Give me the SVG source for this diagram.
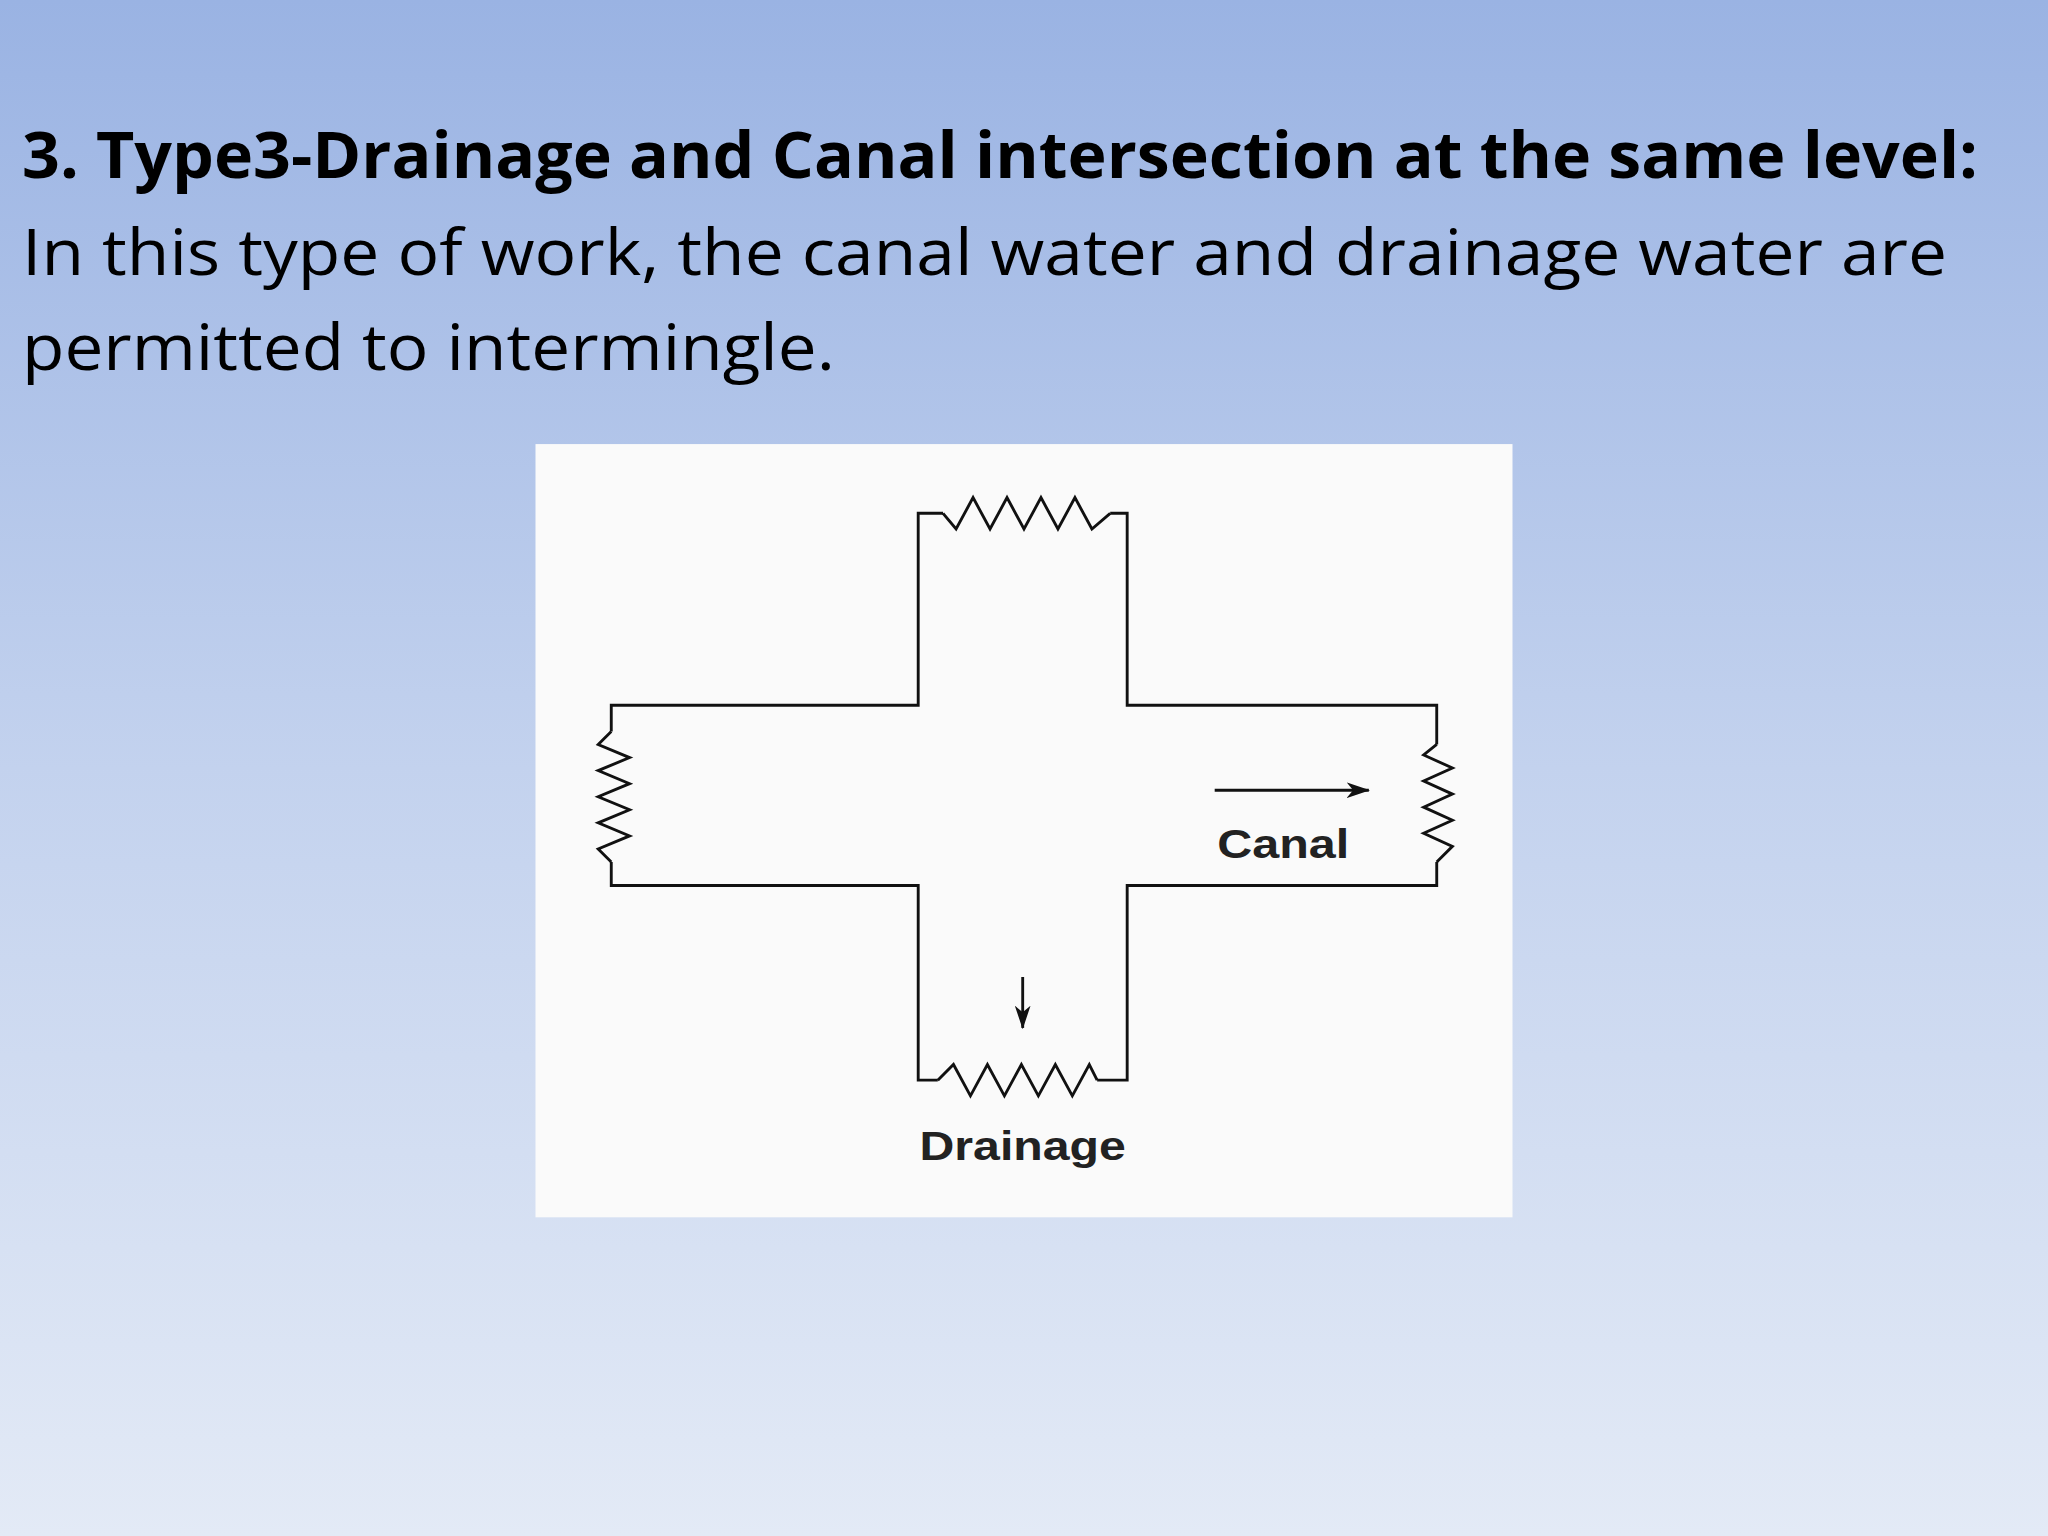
<svg xmlns="http://www.w3.org/2000/svg" width="2048" height="1536" viewBox="0 0 2048 1536">
<defs>
<linearGradient id="bg" x1="0" y1="0" x2="0" y2="1">
<stop offset="0" stop-color="#9AB3E3"/><stop offset="0.5" stop-color="#C3D2EE"/><stop offset="1" stop-color="#E3EAF6"/>
</linearGradient>
<marker id="ah" markerWidth="18" markerHeight="12" refX="17" refY="6" orient="auto" markerUnits="userSpaceOnUse"><path d="M0,0 L18,6 L0,12 L5,6 Z" fill="#111"/></marker>
<style>
.t{font-family:"Open Sans","Liberation Sans",sans-serif;fill:#000;font-size:64px}
.l{fill:none;stroke:#111;stroke-width:2.2}
.lb{font-family:"Liberation Sans",Arial,sans-serif;font-size:31px;font-weight:bold;fill:#222}
</style>
</defs>
<rect width="2048" height="1536" fill="url(#bg)"/>
<text class="t" x="22" y="178" font-weight="bold" textLength="1956" lengthAdjust="spacingAndGlyphs">3. Type3-Drainage and Canal intersection at the same level:</text>
<text class="t" x="22" y="275" textLength="1925" lengthAdjust="spacingAndGlyphs">In this type of work, the canal water and drainage water are</text>
<text class="t" x="22" y="370" textLength="813" lengthAdjust="spacingAndGlyphs">permitted to intermingle.</text>
<g transform="scale(1.30612)">
<rect x="410" y="340" width="748" height="592" fill="#FAFAFA"/>
<g id="cross">
<path class="l" d="M722,393 H703 V540 H468 V560 M468,660 V678 H703 V827 H718 M840,827 H863 V678 H1100 V660 M1100,570 V540 H863 V393 H850"/>
</g>
<g id="zigzags">
<polyline class="l" points="722,393 732,405 745,381 758,405 771,381 784,405 797,381 810,405 823,381 836,405 850,393"/>
<polyline class="l" points="718,827 730,815 743,839 756,815 769,839 782,815 795,839 808,815 821,839 834,815 840,827"/>
<polyline class="l" points="468,560 458,570 482,580 458,590 482,600 458,610 482,620 458,630 482,640 458,650 468,660"/>
<polyline class="l" points="1100,570 1090,578 1112,588 1090,598 1112,608 1090,618 1112,628 1090,638 1112,648 1100,660"/>
</g>
<g id="connectors">
<line class="l" x1="930" y1="605" x2="1048" y2="605" marker-end="url(#ah)"/>
<line class="l" x1="783" y1="748" x2="783" y2="787" marker-end="url(#ah)"/>
</g>
<g id="labels">
<text class="lb" x="932" y="657" textLength="101" lengthAdjust="spacingAndGlyphs">Canal</text>
<text class="lb" x="704" y="888" textLength="158" lengthAdjust="spacingAndGlyphs">Drainage</text>
</g>
</g>
</svg>
